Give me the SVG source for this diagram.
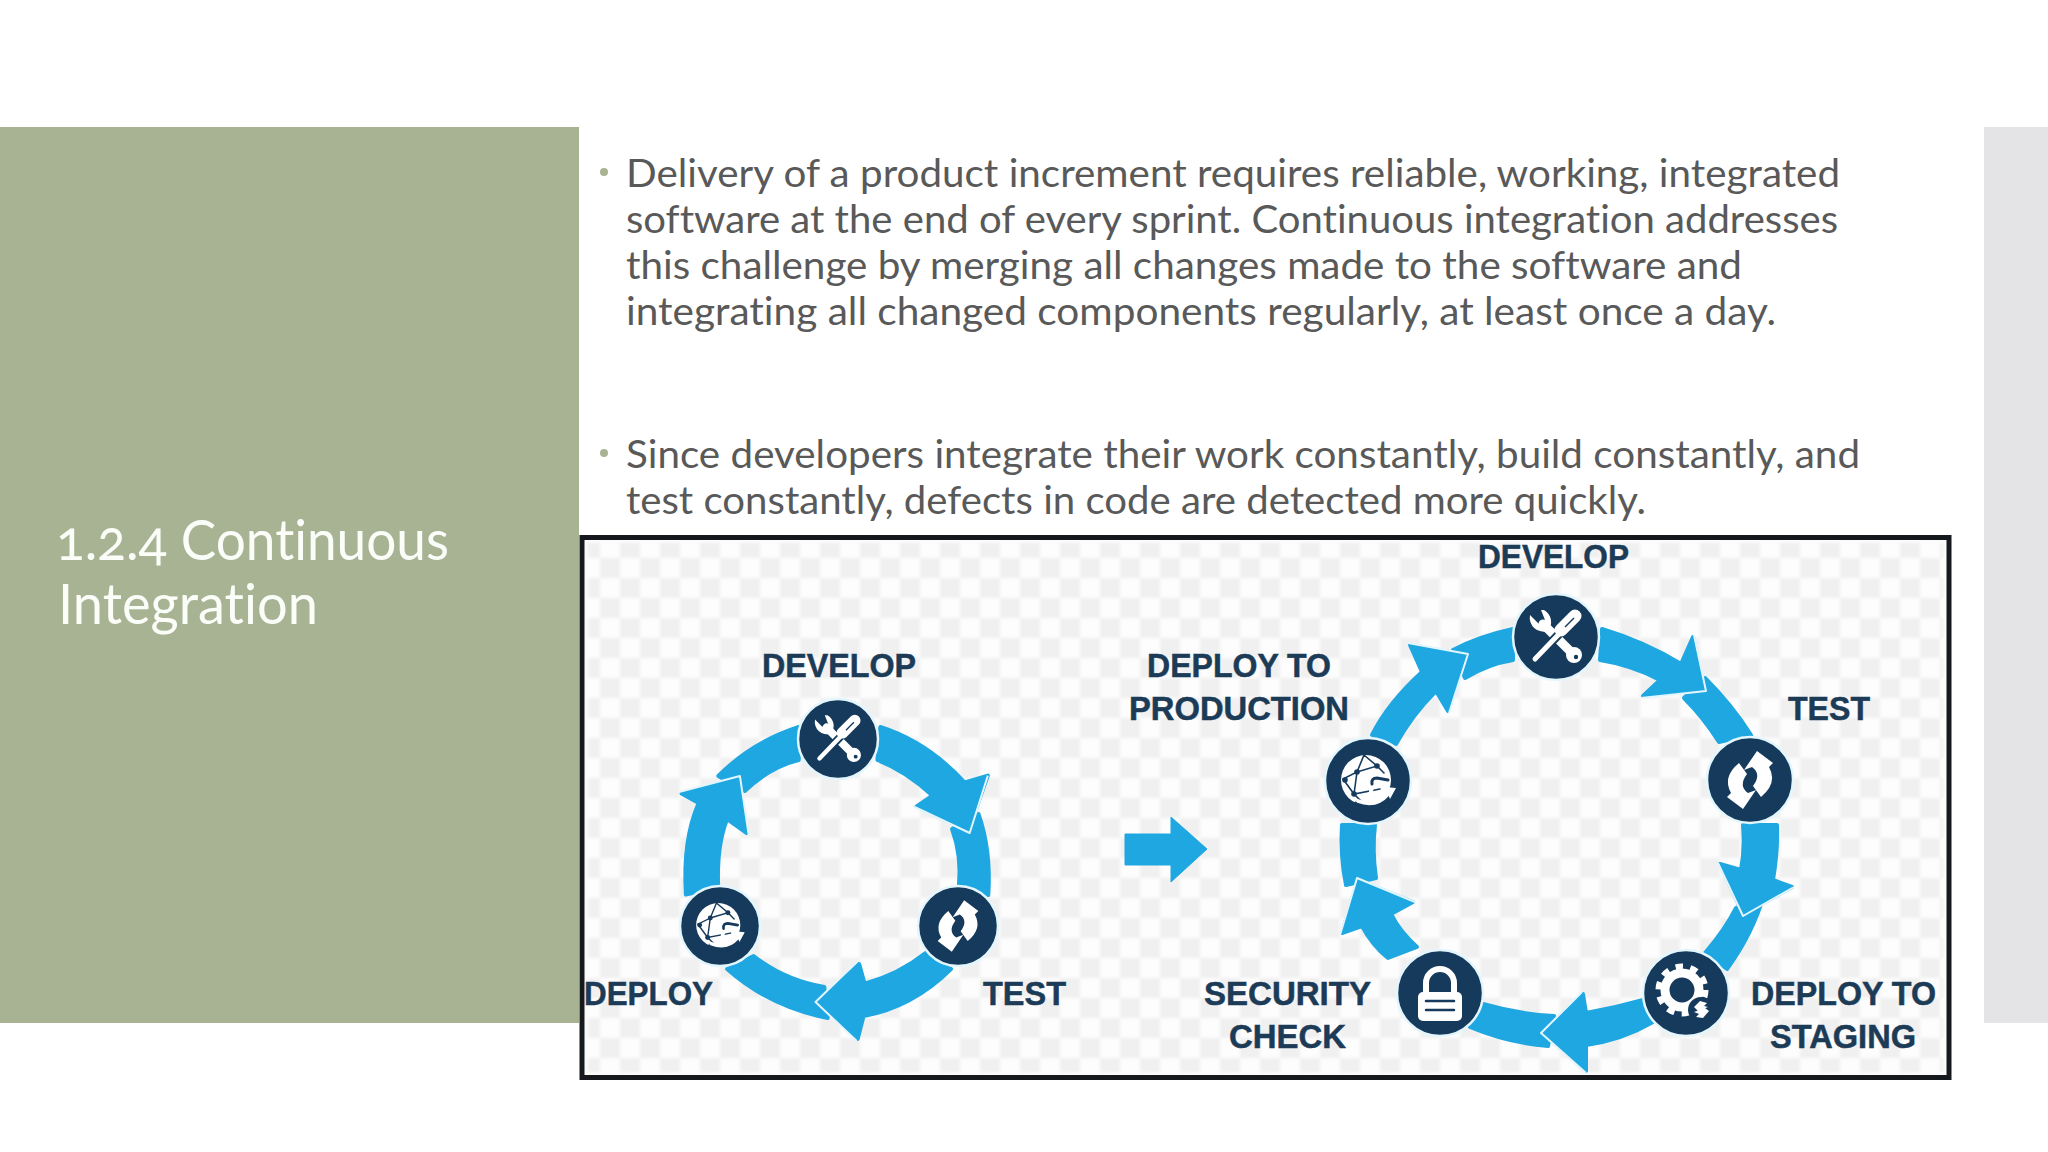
<svg xmlns="http://www.w3.org/2000/svg" width="2048" height="1152" viewBox="0 0 2048 1152">
<style>
.body{font-family:"Lato","Open Sans",sans-serif;font-size:38px;fill:#595959;font-variant-ligatures:none}
.title{font-family:"Lato","Open Sans",sans-serif;font-weight:400;font-size:56px;fill:#fbfdf8;font-variant-ligatures:none}
.lab{font-family:"Liberation Sans",Arial,sans-serif;font-weight:700;font-size:33px;fill:#1c3b57;stroke:#1c3b57;stroke-width:.5}
.arc{fill:#1ea7e1;stroke:#1ea7e1;stroke-width:4;stroke-linejoin:round}
.edge{fill:none;stroke:#e4f6fd;stroke-width:2;stroke-linejoin:round}
.disc{fill:#153a5b;stroke:#e4f6fd;stroke-width:2.5}
.w{fill:#fff}
.ws{fill:none;stroke:#fff;stroke-linecap:round}
.ds{fill:none;stroke:#153a5b;stroke-linecap:round}
</style>
<defs>
<pattern id="chk" width="40" height="40" patternUnits="userSpaceOnUse" x="580" y="538">
<rect width="40" height="40" fill="#fdfdfd"/>
<rect width="20" height="20" fill="#f0f0f0"/>
<rect x="20" y="20" width="20" height="20" fill="#f0f0f0"/>
</pattern>
<filter id="soft"><feGaussianBlur stdDeviation="1.5"/></filter>
<symbol id="tools" viewBox="-43 -43 86 86" overflow="visible">
<path class="ws" stroke-width="9" d="M-13,-13L18,18"/>
<path class="w" d="M-26,-22A14,14 0 0 0 -8,-6A14,14 0 0 0 -12,-27L-15,-27L-11,-17L-17,-13L-26,-22Z"/>
<circle class="w" cx="18" cy="18" r="8"/><circle cx="20" cy="20" r="2.2" fill="#153a5b"/>
<path d="M-19,20L6,-6" stroke="#153a5b" stroke-width="9" fill="none"/>
<path class="ws" stroke-width="5" d="M-21,22L4,-4"/>
<path class="ws" stroke-width="13" d="M5,-7L19,-21"/>
<path d="M9,-10L18,-19" stroke="#153a5b" stroke-width="1.5" fill="none"/>
</symbol>
<symbol id="sync" viewBox="-43 -43 86 86" overflow="visible">
<path class="w" d="M-11,-17Q-28,-3 -19,13L-23,17L-7,29L6,10L-2,13Q-12,6 -3,-6Z"/>
<path class="w" transform="rotate(180)" d="M-11,-17Q-28,-3 -19,13L-23,17L-7,29L6,10L-2,13Q-12,6 -3,-6Z"/>
</symbol>
<symbol id="globe" viewBox="-43 -43 86 86" overflow="visible">
<circle class="w" cx="-2" cy="-1" r="25"/>
<path class="ds" stroke-width="1.6" d="M-4,-26L-11,-9L-25,-2L-14,13L-4,23M-11,-9L9,-15L-4,-26M-11,-9L-14,13M-25,-2L-14,13L12,8M9,-15L16,-8"/>
<circle cx="-11" cy="-9" r="2.8" fill="#153a5b"/><circle cx="9" cy="-15" r="2.8" fill="#153a5b"/><circle cx="-23" cy="-1" r="2.8" fill="#153a5b"/><circle cx="-14" cy="13" r="2.8" fill="#153a5b"/>
<path class="ds" stroke-width="7" d="M24,10A24,24 0 0 1 -10,23"/>
<path class="ds" stroke-width="3" d="M4,3Q3,-3 9,-3L20,-1"/>
<path class="ws" stroke-width="4" d="M-10,20Q8,27 20,13M4,7Q0,16 10,14"/>
<path class="w" d="M17,6L28,7L22,18Z"/>
</symbol>
<symbol id="gear" viewBox="-43 -43 86 86" overflow="visible">
<circle cx="-4" cy="-3" r="17" fill="none" stroke="#fff" stroke-width="9"/>
<circle cx="-4" cy="-3" r="23.5" fill="none" stroke="#fff" stroke-width="6" stroke-dasharray="7.4 7.4"/>
<circle cx="15" cy="17" r="13" fill="#153a5b"/>
<path class="w" d="M8,14L14,8L21,10L18,13L22,14L12,18ZM23,18L17,25L10,24L13,21L8,19L19,15Z"/>
</symbol>
<symbol id="lock" viewBox="-43 -43 86 86" overflow="visible">
<path class="ws" stroke-width="6" stroke-linecap="butt" d="M-14,0V-10A14,14 0 0 1 14,-10V0"/>
<rect class="w" x="-22" y="-1" width="44" height="29" rx="5"/>
<path class="ds" stroke-width="2.5" stroke-linecap="butt" d="M-14,8H14M-14,17H14"/>
</symbol>
</defs>

<rect width="2048" height="1152" fill="#fff"/>
<rect id="side-panel" x="0" y="127" width="579" height="896" fill="#a8b394"/>
<rect id="right-band" x="1984" y="127" width="64" height="896" fill="#e4e4e6"/>

<g id="title">
<text class="title"><tspan x="56" y="560" textLength="393" lengthAdjust="spacingAndGlyphs" style="font-feature-settings:'onum'">1.2.4 Continuous</tspan></text>
<text class="title" x="58" y="624" textLength="260" lengthAdjust="spacingAndGlyphs">Integration</text>
</g>

<g id="bullets">
<circle cx="604" cy="172" r="4" fill="#a8b394"/>
<circle cx="604" cy="453" r="4" fill="#a8b394"/>
<text class="body" x="626" y="187" textLength="1214" lengthAdjust="spacingAndGlyphs">Delivery of a product increment requires reliable, working, integrated</text>
<text class="body" x="626" y="233" textLength="1212" lengthAdjust="spacingAndGlyphs">software at the end of every sprint. Continuous integration addresses</text>
<text class="body" x="626" y="279" textLength="1116" lengthAdjust="spacingAndGlyphs">this challenge by merging all changes made to the software and</text>
<text class="body" x="626" y="325" textLength="1150" lengthAdjust="spacingAndGlyphs">integrating all changed components regularly, at least once a day.</text>
<text class="body" x="626" y="468" textLength="1234" lengthAdjust="spacingAndGlyphs">Since developers integrate their work constantly, build constantly, and</text>
<text class="body" x="626" y="514" textLength="1020" lengthAdjust="spacingAndGlyphs">test constantly, defects in code are detected more quickly.</text>
</g>

<g id="picture-frame">
<rect x="582" y="537.5" width="1367" height="540" fill="#fbfbfb"/>
<rect x="588" y="543" width="1355" height="529" fill="url(#chk)" filter="url(#soft)"/>
<rect x="582" y="537.5" width="1367" height="540" fill="none" stroke="#15191d" stroke-width="5"/>
</g>

<g id="connectors">
<g transform="matrix(.982 0 0 1 10.26 0)">
<path class="arc" d="M986,814Q999,850 996,895L966,887Q969,855 959,829Z"/>
<path class="arc" d="M886,727Q934,742 972,782.5L995.5,775.6L975.5,831L923,806.5L939,795.6Q912,771 883,760Z"/>
<path class="edge" d="M995.5,775.6L977,833L921,807"/>
<path class="arc" d="M757,956Q788,980 829,987L832.5,1018Q773.6,1007 730,969Z"/>
<path class="arc" d="M932,953Q904.5,974.5 870,983.6L864.5,964L823,1002L863,1039L869,1016Q919,1007 958,969Z"/>
<path class="edge" d="M862,962L820,1002L862,1041"/>
<path class="arc" d="M721,776Q755.5,742 803,727L803,760Q773.6,767 748,791Z"/>
<path class="arc" d="M688,894.5Q684.5,840 701,803L683.5,793.5L741,778L750,833L730,819Q719,847 721,887Z"/>
<path class="edge" d="M681,792L743,776L752,835"/>
</g>

<path class="arc" style="stroke-width:1" d="M1125,834L1171,834L1171,817L1207,849L1171,882L1171,865L1125,865Z"/>

<path class="arc" d="M1705,678Q1732,705 1751,735L1719,742Q1704,718 1684,698Z"/>
<path class="arc" d="M1602,629Q1645,642 1681,664L1693,637L1704,689L1643,696L1660,680Q1632,665 1600,660Z"/>
<path class="edge" d="M1694,635L1706,691L1641,698"/>
<path class="arc" d="M1764,895Q1752,935 1727,969L1705,953Q1725,930 1736,908Z"/>
<path class="arc" d="M1743,825Q1745,850 1741,870L1720,864L1743,914L1792,887L1773,880Q1778,850 1777,825Z"/>
<path class="edge" d="M1718,863L1743,916L1794,887"/>
<path class="arc" d="M1554,1016Q1518,1014 1483,1004L1470,1027Q1508,1043 1548,1046Z"/>
<path class="arc" d="M1643,1000Q1615,1008 1586,1013L1583,994L1543,1033L1586,1071L1586,1045Q1622,1040 1653,1022Z"/>
<path class="edge" d="M1582,992L1541,1033L1586,1073"/>
<path class="arc" d="M1342,825Q1340,855 1346,885L1376,878Q1372,850 1375,825Z"/>
<path class="arc" d="M1417,947Q1400,932 1391,914L1413,902L1358,880L1342,933L1362,926Q1372,945 1388,958Z"/>
<path class="edge" d="M1415,902L1357,878L1340,935"/>
<path class="arc" d="M1453,650Q1480,636 1513,629L1513,660Q1488,664 1465,678Z"/>
<path class="arc" d="M1372,735Q1388,703 1422,672L1410,645L1466,655L1448,711L1436,691Q1412,715 1396,744Z"/>
<path class="edge" d="M1408,643L1468,654L1449,713"/>
</g>

<g id="a-develop"><circle class="disc" cx="838" cy="739" r="40"/><use href="#tools" x="800" y="701" width="76" height="76"/><text class="lab" x="762" y="677" textLength="154" lengthAdjust="spacingAndGlyphs">DEVELOP</text></g>
<g id="a-test"><circle class="disc" cx="958" cy="926" r="40"/><use href="#sync" x="920" y="888" width="76" height="76"/><text class="lab" x="983" y="1005" textLength="83" lengthAdjust="spacingAndGlyphs">TEST</text></g>
<g id="a-deploy"><circle class="disc" cx="720" cy="926" r="40"/><use href="#globe" x="682" y="888" width="76" height="76"/><text class="lab" x="584" y="1005" textLength="129" lengthAdjust="spacingAndGlyphs">DEPLOY</text></g>

<g id="b-develop"><circle class="disc" cx="1556" cy="637" r="43"/><use href="#tools" x="1513" y="594" width="86" height="86"/><text class="lab" x="1478" y="568" textLength="151" lengthAdjust="spacingAndGlyphs">DEVELOP</text></g>
<g id="b-test"><circle class="disc" cx="1750" cy="780" r="43"/><use href="#sync" x="1707" y="737" width="86" height="86"/><text class="lab" x="1788" y="720" textLength="82" lengthAdjust="spacingAndGlyphs">TEST</text></g>
<g id="b-staging"><circle class="disc" cx="1686" cy="993" r="43"/><use href="#gear" x="1643" y="950" width="86" height="86"/><text class="lab" x="1751" y="1005" textLength="185" lengthAdjust="spacingAndGlyphs">DEPLOY TO</text><text class="lab" x="1770" y="1048" textLength="146" lengthAdjust="spacingAndGlyphs">STAGING</text></g>
<g id="b-security"><circle class="disc" cx="1440" cy="993" r="43"/><use href="#lock" x="1397" y="950" width="86" height="86"/><text class="lab" x="1204" y="1005" textLength="167" lengthAdjust="spacingAndGlyphs">SECURITY</text><text class="lab" x="1229" y="1048" textLength="117" lengthAdjust="spacingAndGlyphs">CHECK</text></g>
<g id="b-production"><circle class="disc" cx="1368" cy="781" r="43"/><use href="#globe" x="1325" y="738" width="86" height="86"/><text class="lab" x="1147" y="677" textLength="184" lengthAdjust="spacingAndGlyphs">DEPLOY TO</text><text class="lab" x="1129" y="720" textLength="220" lengthAdjust="spacingAndGlyphs">PRODUCTION</text></g>
</svg>
